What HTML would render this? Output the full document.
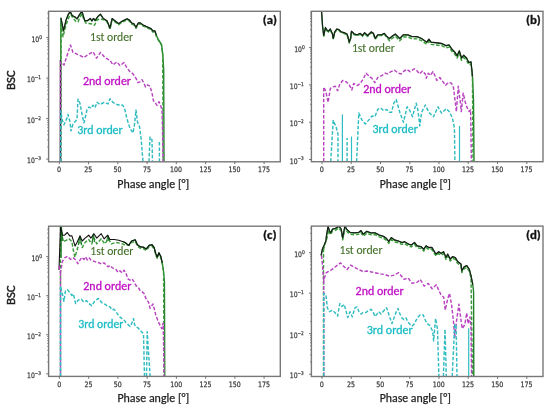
<!DOCTYPE html>
<html><head><meta charset="utf-8"><title>BSC vs phase angle</title>
<style>
html,body{margin:0;padding:0;background:#fff;}
body{width:550px;height:410px;overflow:hidden;}
svg{display:block;filter:blur(0.35px);}
</style></head>
<body>
<svg width="550" height="410" viewBox="0 0 550 410">
<rect width="550" height="410" fill="#fff"/>
<clipPath id="clipa"><rect x="48.6" y="11.3" width="231.7" height="150.5"/></clipPath>
<g clip-path="url(#clipa)">
<polyline points="60.5,161.8 60.9,18.2 63.5,31.0 66.1,20.3 68.1,15.0 70.2,11.7 72.2,15.8 74.7,17.0 77.1,19.0 79.6,14.6 82.0,11.7 83.3,16.2 84.9,21.1 87.8,20.7 90.2,18.7 91.9,21.1 93.5,18.7 95.2,20.7 97.6,17.0 100.4,14.4 103.4,18.8 107.0,21.0 110.0,28.3 112.1,18.8 115.0,21.0 118.7,23.9 121.6,21.7 126.0,19.5 127.2,19.1 129.4,20.2 131.6,23.2 133.8,23.9 136.0,27.5 138.2,23.2 140.4,23.2 143.3,25.4 147.7,27.3 151.3,29.0 152.8,31.2 155.0,31.2 156.4,35.6 158.6,40.0 161.5,44.4 162.7,53.9 163.7,70.0 164.0,161.8" fill="none" stroke="#23802a" stroke-width="1.40" stroke-linejoin="round"/>
<polyline points="61.0,161.8 61.0,22.0 63.0,36.7 66.0,25.0 69.0,17.0 71.0,14.6 73.0,18.2 76.0,21.5 78.0,22.0 80.0,17.0 82.0,14.0 84.0,20.0 86.0,23.2 89.0,23.5 92.0,24.0 94.5,25.2 97.0,20.0 100.0,19.0 103.4,19.6 107.0,21.8 110.0,29.1 112.1,19.6 115.0,21.8 118.7,24.7 121.6,22.5 126.0,20.3 127.2,19.9 129.4,21.0 131.6,24.0 133.8,24.7 136.0,28.3 138.2,24.0 140.4,24.0 143.3,26.2 147.7,28.1 151.3,29.8 152.8,32.0 155.0,32.0 156.4,36.4 158.6,40.8 161.5,45.2 162.7,54.7 163.2,161.8" fill="none" stroke="#3a9a3a" stroke-width="1.45" stroke-dasharray="3.6,1.8" stroke-linejoin="round"/>
<polyline points="60.9,17.9 63.5,30.7 66.1,20.0 68.1,14.7 70.2,11.4 72.2,15.5 74.7,16.7 77.1,18.7 79.6,14.3 82.0,11.4 83.3,15.9 84.9,20.8 87.8,20.4 90.2,18.4 91.9,20.8 93.5,18.4 95.2,20.4 97.6,16.7 100.4,14.1 103.4,18.5 107.0,20.7 110.0,28.0 112.1,18.5 115.0,20.7 118.7,23.6 121.6,21.4 126.0,19.2 127.2,18.8 129.4,19.9 131.6,22.9 133.8,23.6 136.0,27.2 138.2,22.9 140.4,22.9 143.3,25.1 147.7,27.0 151.3,28.7 152.8,30.9 155.0,30.9 156.4,35.3" fill="none" stroke="#1c1c1c" stroke-width="1.10" stroke-linejoin="round"/>
<polyline points="60.4,161.8 60.4,60.0" fill="none" stroke="#2a1a2a" stroke-width="1.30" stroke-linejoin="round"/>
<polyline points="60.5,161.8 60.5,62.0 64.0,65.0 70.5,45.1 73.0,52.4 78.0,54.6 84.0,57.5 88.0,54.6 93.0,51.7 96.5,58.2 100.5,52.4 105.0,57.5 110.0,60.4 113.0,64.8 117.0,61.9 120.0,65.6 124.0,62.6 127.0,68.0 130.0,71.7 133.0,73.9 136.0,78.3 138.0,82.7 140.0,81.9 142.0,79.7 144.0,83.4 145.5,87.0 147.5,84.9 150.0,86.3 152.0,92.9 153.5,100.9 155.0,102.4 157.0,105.3 159.0,101.7 160.5,105.3 162.0,109.7 162.5,126.6 163.0,161.8" fill="none" stroke="#b844c0" stroke-width="1.45" stroke-dasharray="3.6,1.8" stroke-linejoin="round"/>
<polyline points="60.5,161.8 60.9,110.7 62.0,119.3 64.0,124.8 67.0,118.0 68.0,114.4 70.0,121.7 71.0,130.9 73.0,124.1 75.0,121.7 77.0,119.3 78.0,99.1 80.0,103.4 82.0,114.4 84.0,122.9 86.0,114.4 87.0,109.5 89.0,107.0 91.0,108.3 93.0,105.2 95.0,107.7 97.0,102.2 100.0,104.6 104.0,102.4 108.0,103.9 110.0,98.7 113.0,102.4 116.0,104.0 118.0,105.0 121.0,104.6 123.0,105.5 125.0,110.0 127.0,119.0 130.0,128.4 133.0,133.0 134.5,124.7 136.0,110.1 137.5,122.0 139.5,126.6 141.0,137.5 143.0,161.8" fill="none" stroke="#30bcc0" stroke-width="1.45" stroke-dasharray="3.6,1.8" stroke-linejoin="round"/>
<polyline points="149.0,161.8 150.0,137.0 152.0,140.0 152.5,161.8" fill="none" stroke="#30bcc0" stroke-width="1.45" stroke-dasharray="3.6,1.8" stroke-linejoin="round"/>
<polyline points="159.4,161.8 159.4,142.0" fill="none" stroke="#30bcc0" stroke-width="1.45" stroke-dasharray="3.6,1.8" stroke-linejoin="round"/>
</g>
<rect x="48.6" y="11.3" width="231.7" height="150.5" fill="none" stroke="#787878" stroke-width="1.4"/>
<line x1="59.3" y1="161.8" x2="59.3" y2="164.2" stroke="#666" stroke-width="0.9"/>
<text x="59.1" y="172.4" font-family="'DejaVu Sans', 'Liberation Sans', sans-serif" font-size="7.4" fill="#3a3a3a" stroke="#3a3a3a" stroke-width="0.25" text-anchor="middle" textLength="4.1" lengthAdjust="spacingAndGlyphs">0</text>
<line x1="88.5" y1="161.8" x2="88.5" y2="164.2" stroke="#666" stroke-width="0.9"/>
<text x="88.3" y="172.4" font-family="'DejaVu Sans', 'Liberation Sans', sans-serif" font-size="7.4" fill="#3a3a3a" stroke="#3a3a3a" stroke-width="0.25" text-anchor="middle" textLength="8.0" lengthAdjust="spacingAndGlyphs">25</text>
<line x1="117.8" y1="161.8" x2="117.8" y2="164.2" stroke="#666" stroke-width="0.9"/>
<text x="117.6" y="172.4" font-family="'DejaVu Sans', 'Liberation Sans', sans-serif" font-size="7.4" fill="#3a3a3a" stroke="#3a3a3a" stroke-width="0.25" text-anchor="middle" textLength="8.0" lengthAdjust="spacingAndGlyphs">50</text>
<line x1="147.1" y1="161.8" x2="147.1" y2="164.2" stroke="#666" stroke-width="0.9"/>
<text x="146.9" y="172.4" font-family="'DejaVu Sans', 'Liberation Sans', sans-serif" font-size="7.4" fill="#3a3a3a" stroke="#3a3a3a" stroke-width="0.25" text-anchor="middle" textLength="8.0" lengthAdjust="spacingAndGlyphs">75</text>
<line x1="176.3" y1="161.8" x2="176.3" y2="164.2" stroke="#666" stroke-width="0.9"/>
<text x="176.1" y="172.4" font-family="'DejaVu Sans', 'Liberation Sans', sans-serif" font-size="7.4" fill="#3a3a3a" stroke="#3a3a3a" stroke-width="0.25" text-anchor="middle" textLength="12.0" lengthAdjust="spacingAndGlyphs">100</text>
<line x1="205.6" y1="161.8" x2="205.6" y2="164.2" stroke="#666" stroke-width="0.9"/>
<text x="205.4" y="172.4" font-family="'DejaVu Sans', 'Liberation Sans', sans-serif" font-size="7.4" fill="#3a3a3a" stroke="#3a3a3a" stroke-width="0.25" text-anchor="middle" textLength="12.0" lengthAdjust="spacingAndGlyphs">125</text>
<line x1="234.8" y1="161.8" x2="234.8" y2="164.2" stroke="#666" stroke-width="0.9"/>
<text x="234.6" y="172.4" font-family="'DejaVu Sans', 'Liberation Sans', sans-serif" font-size="7.4" fill="#3a3a3a" stroke="#3a3a3a" stroke-width="0.25" text-anchor="middle" textLength="12.0" lengthAdjust="spacingAndGlyphs">150</text>
<line x1="264.1" y1="161.8" x2="264.1" y2="164.2" stroke="#666" stroke-width="0.9"/>
<text x="263.9" y="172.4" font-family="'DejaVu Sans', 'Liberation Sans', sans-serif" font-size="7.4" fill="#3a3a3a" stroke="#3a3a3a" stroke-width="0.25" text-anchor="middle" textLength="12.0" lengthAdjust="spacingAndGlyphs">175</text>
<line x1="46.2" y1="37.6" x2="48.6" y2="37.6" stroke="#666" stroke-width="0.9"/>
<text y="41.6" font-family="'DejaVu Sans', 'Liberation Sans', sans-serif" fill="#3a3a3a" stroke="#3a3a3a" stroke-width="0.25"><tspan x="31.4" font-size="7.5" textLength="7.8" lengthAdjust="spacingAndGlyphs">10</tspan><tspan font-size="5.2" dy="-3.1" textLength="2.8" lengthAdjust="spacingAndGlyphs">0</tspan></text>
<line x1="47.2" y1="25.4" x2="48.6" y2="25.4" stroke="#666" stroke-width="0.7"/>
<line x1="47.2" y1="18.3" x2="48.6" y2="18.3" stroke="#666" stroke-width="0.7"/>
<line x1="47.2" y1="13.2" x2="48.6" y2="13.2" stroke="#666" stroke-width="0.7"/>
<line x1="46.2" y1="78.1" x2="48.6" y2="78.1" stroke="#666" stroke-width="0.9"/>
<text y="82.1" font-family="'DejaVu Sans', 'Liberation Sans', sans-serif" fill="#3a3a3a" stroke="#3a3a3a" stroke-width="0.25"><tspan x="27.0" font-size="7.5" textLength="7.8" lengthAdjust="spacingAndGlyphs">10</tspan><tspan font-size="5.2" dy="-3.1" textLength="6.2" lengthAdjust="spacingAndGlyphs">&#8722;1</tspan></text>
<line x1="47.2" y1="65.9" x2="48.6" y2="65.9" stroke="#666" stroke-width="0.7"/>
<line x1="47.2" y1="58.8" x2="48.6" y2="58.8" stroke="#666" stroke-width="0.7"/>
<line x1="47.2" y1="53.7" x2="48.6" y2="53.7" stroke="#666" stroke-width="0.7"/>
<line x1="47.2" y1="49.8" x2="48.6" y2="49.8" stroke="#666" stroke-width="0.7"/>
<line x1="47.2" y1="46.6" x2="48.6" y2="46.6" stroke="#666" stroke-width="0.7"/>
<line x1="47.2" y1="43.9" x2="48.6" y2="43.9" stroke="#666" stroke-width="0.7"/>
<line x1="47.2" y1="41.5" x2="48.6" y2="41.5" stroke="#666" stroke-width="0.7"/>
<line x1="47.2" y1="39.5" x2="48.6" y2="39.5" stroke="#666" stroke-width="0.7"/>
<line x1="46.2" y1="118.6" x2="48.6" y2="118.6" stroke="#666" stroke-width="0.9"/>
<text y="122.6" font-family="'DejaVu Sans', 'Liberation Sans', sans-serif" fill="#3a3a3a" stroke="#3a3a3a" stroke-width="0.25"><tspan x="27.0" font-size="7.5" textLength="7.8" lengthAdjust="spacingAndGlyphs">10</tspan><tspan font-size="5.2" dy="-3.1" textLength="6.2" lengthAdjust="spacingAndGlyphs">&#8722;2</tspan></text>
<line x1="47.2" y1="106.4" x2="48.6" y2="106.4" stroke="#666" stroke-width="0.7"/>
<line x1="47.2" y1="99.3" x2="48.6" y2="99.3" stroke="#666" stroke-width="0.7"/>
<line x1="47.2" y1="94.2" x2="48.6" y2="94.2" stroke="#666" stroke-width="0.7"/>
<line x1="47.2" y1="90.3" x2="48.6" y2="90.3" stroke="#666" stroke-width="0.7"/>
<line x1="47.2" y1="87.1" x2="48.6" y2="87.1" stroke="#666" stroke-width="0.7"/>
<line x1="47.2" y1="84.4" x2="48.6" y2="84.4" stroke="#666" stroke-width="0.7"/>
<line x1="47.2" y1="82.0" x2="48.6" y2="82.0" stroke="#666" stroke-width="0.7"/>
<line x1="47.2" y1="80.0" x2="48.6" y2="80.0" stroke="#666" stroke-width="0.7"/>
<line x1="46.2" y1="159.1" x2="48.6" y2="159.1" stroke="#666" stroke-width="0.9"/>
<text y="163.1" font-family="'DejaVu Sans', 'Liberation Sans', sans-serif" fill="#3a3a3a" stroke="#3a3a3a" stroke-width="0.25"><tspan x="27.0" font-size="7.5" textLength="7.8" lengthAdjust="spacingAndGlyphs">10</tspan><tspan font-size="5.2" dy="-3.1" textLength="6.2" lengthAdjust="spacingAndGlyphs">&#8722;3</tspan></text>
<line x1="47.2" y1="146.9" x2="48.6" y2="146.9" stroke="#666" stroke-width="0.7"/>
<line x1="47.2" y1="139.8" x2="48.6" y2="139.8" stroke="#666" stroke-width="0.7"/>
<line x1="47.2" y1="134.7" x2="48.6" y2="134.7" stroke="#666" stroke-width="0.7"/>
<line x1="47.2" y1="130.8" x2="48.6" y2="130.8" stroke="#666" stroke-width="0.7"/>
<line x1="47.2" y1="127.6" x2="48.6" y2="127.6" stroke="#666" stroke-width="0.7"/>
<line x1="47.2" y1="124.9" x2="48.6" y2="124.9" stroke="#666" stroke-width="0.7"/>
<line x1="47.2" y1="122.5" x2="48.6" y2="122.5" stroke="#666" stroke-width="0.7"/>
<line x1="47.2" y1="120.5" x2="48.6" y2="120.5" stroke="#666" stroke-width="0.7"/>
<text x="90.1" y="40.5" font-family="Carlito, 'Liberation Sans', sans-serif" font-size="11.50" font-weight="normal" fill="#44702a" stroke="#44702a" stroke-width="0.12" textLength="43.0" lengthAdjust="spacingAndGlyphs">1st order</text>
<text x="83.0" y="84.5" font-family="Carlito, 'Liberation Sans', sans-serif" font-size="11.50" font-weight="normal" fill="#c010c4" stroke="#c010c4" stroke-width="0.30" textLength="48.0" lengthAdjust="spacingAndGlyphs">2nd order</text>
<text x="77.2" y="133.5" font-family="Carlito, 'Liberation Sans', sans-serif" font-size="11.50" font-weight="normal" fill="#1cbcc4" stroke="#1cbcc4" stroke-width="0.30" textLength="45.5" lengthAdjust="spacingAndGlyphs">3rd order</text>
<text x="262.7" y="23.6" font-family="Carlito, 'Liberation Sans', sans-serif" font-size="12.00" font-weight="bold" fill="#111" stroke="#111" stroke-width="0.30" textLength="14.2" lengthAdjust="spacingAndGlyphs">(a)</text>
<clipPath id="clipb"><rect x="311.4" y="11.3" width="231.6" height="150.4"/></clipPath>
<g clip-path="url(#clipb)">
<polyline points="321.1,5.0 322.5,25.5 323.7,35.8 325.5,27.7 326.6,29.9 328.4,31.4 330.3,29.2 332.5,34.3 333.2,38.7 334.7,32.1 336.9,29.2 339.0,29.9 341.2,32.1 344.2,32.9 347.1,34.3 349.3,42.4 350.7,38.0 351.5,31.4 354.4,34.3 357.3,35.0 360.2,33.6 362.4,35.8 364.6,32.9 367.6,35.8 371.2,32.1 373.4,33.6 375.2,38.7 377.8,35.0 381.4,35.0 384.4,33.6 386.6,36.5 389.5,38.7 392.0,36.5 395.3,34.3 397.5,36.5 399.7,38.7 403.4,35.0 407.7,35.0 411.4,36.5 417.2,36.9 421.6,38.7 426.7,42.4 428.9,39.4 431.1,42.4 435.9,42.9 441.7,43.7 446.1,45.9 449.0,45.1 452.0,49.5 454.9,52.4 457.1,56.1 459.3,51.0 461.5,58.3 463.7,55.4 466.6,58.3 468.8,62.7 471.0,62.0 472.5,76.6 473.5,100.0 474.0,161.7" fill="none" stroke="#23802a" stroke-width="1.40" stroke-linejoin="round"/>
<polyline points="323.7,36.4 325.5,28.3 326.6,30.5 328.4,32.0 330.3,29.8 332.5,34.9 333.2,39.3 334.7,32.7 336.9,29.8 339.0,30.5 341.2,32.7 344.2,33.5 347.1,34.9 349.3,43.0 350.7,38.6 351.5,32.0 354.4,34.9 357.3,35.6 360.2,34.2 362.4,36.4 364.6,33.5 367.6,36.4 371.2,32.7 373.4,34.2 375.2,39.3 377.8,35.6 381.4,35.6 384.4,34.2 386.6,37.1 389.5,40.7 392.0,38.5 395.3,36.3 397.5,38.5 399.7,40.7 403.4,37.0 407.7,37.0 411.4,38.5 417.2,38.9 421.6,40.7 426.7,44.4 428.9,41.4 431.1,44.4 435.9,44.9 441.7,45.7 446.1,47.9 449.0,47.1 452.0,51.5 454.9,54.4 457.1,58.1 459.3,53.0 461.5,60.3 463.7,57.4 466.6,60.3 468.8,64.7 471.0,64.0 472.5,78.6 473.0,161.7" fill="none" stroke="#3a9a3a" stroke-width="1.45" stroke-dasharray="3.6,1.8" stroke-linejoin="round"/>
<polyline points="321.1,4.7 322.5,25.2 323.7,35.5 325.5,27.4 326.6,29.6 328.4,31.1 330.3,28.9 332.5,34.0 333.2,38.4 334.7,31.8 336.9,28.9 339.0,29.6 341.2,31.8 344.2,32.6 347.1,34.0 349.3,42.1 350.7,37.7 351.5,31.1 354.4,34.0 357.3,34.7 360.2,33.3 362.4,35.5 364.6,32.6 367.6,35.5 371.2,31.8 373.4,33.3 375.2,38.4 377.8,34.7 381.4,34.7 384.4,33.3 386.6,36.2 389.5,38.4 392.0,36.2 395.3,34.0 397.5,36.2 399.7,38.4 403.4,34.7 407.7,34.7 411.4,36.2 417.2,36.6 421.6,38.4 426.7,42.1 428.9,39.1 431.1,42.1 435.9,42.6 441.7,43.4 446.1,45.6 449.0,44.8 452.0,49.2 454.9,52.1 457.1,55.8 459.3,50.7 461.5,58.0 463.7,55.1 466.6,58.0 468.8,62.4 471.0,61.7 472.5,76.3" fill="none" stroke="#1c1c1c" stroke-width="1.10" stroke-linejoin="round"/>
<polyline points="323.7,161.7 323.7,87.0 325.9,91.4 328.1,102.4 330.3,88.5 332.5,87.0 335.4,86.3 337.6,90.7 339.8,84.1 342.7,80.5 346.4,81.9 349.3,84.9 351.8,90.0 353.7,83.4 357.3,85.6 360.2,83.4 363.2,79.0 366.1,73.2 369.0,76.1 371.9,78.3 374.9,82.7 377.8,77.5 382.2,75.4 385.1,73.2 388.0,73.9 390.9,71.7 394.6,70.2 398.2,73.2 401.2,73.9 404.1,71.0 407.0,69.5 409.9,71.7 414.3,68.8 417.2,71.0 419.4,73.9 422.4,71.0 425.3,73.9 426.3,78.3 428.2,73.2 430.4,75.4 432.9,71.6 434.9,75.5 436.8,80.4 439.8,77.5 442.7,81.4 445.6,85.3 448.6,82.3 451.5,83.3 453.4,87.2 455.0,99.9 456.4,111.6 458.3,86.3 460.3,101.9 461.3,111.6 463.2,93.1 465.2,101.9 467.1,107.7 469.1,111.6 470.6,109.7 471.4,161.7" fill="none" stroke="#b844c0" stroke-width="1.45" stroke-dasharray="3.6,1.8" stroke-linejoin="round"/>
<polyline points="356.6,161.7 358.8,113.0 361.7,119.6 365.4,124.0 369.7,118.9 372.0,116.0 374.9,116.7 377.8,109.4 380.7,107.9 383.6,110.8 386.6,109.4 389.5,112.3 391.6,112.3 393.8,103.1 396.2,99.5 399.8,112.3 403.5,122.3 407.1,106.8 409.8,110.5 412.5,116.8 416.2,103.2 418.0,110.5 419.8,125.9 421.6,112.3 425.3,105.0 428.9,112.3 433.5,116.8 438.0,106.8 441.6,113.2 446.2,108.6 449.8,112.3 452.5,118.6 454.4,127.7 454.9,161.7" fill="none" stroke="#30bcc0" stroke-width="1.45" stroke-dasharray="3.6,1.8" stroke-linejoin="round"/>
<polyline points="330.7,161.7 333.2,120.4 336.1,126.9 338.0,134.2 338.0,161.7" fill="none" stroke="#30bcc0" stroke-width="1.45" stroke-dasharray="3.6,1.8" stroke-linejoin="round"/>
<polyline points="347.1,161.7 347.1,137.9" fill="none" stroke="#30bcc0" stroke-width="1.45" stroke-dasharray="3.6,1.8" stroke-linejoin="round"/>
<polyline points="342.4,161.7 342.4,114.5" fill="none" stroke="#30bcc0" stroke-width="1.20" stroke-linejoin="round"/>
<polyline points="351.5,161.7 351.5,136.4" fill="none" stroke="#30bcc0" stroke-width="1.20" stroke-linejoin="round"/>
<polyline points="459.5,161.7 459.5,125.9" fill="none" stroke="#30bcc0" stroke-width="1.20" stroke-linejoin="round"/>
</g>
<rect x="311.4" y="11.3" width="231.6" height="150.4" fill="none" stroke="#787878" stroke-width="1.4"/>
<line x1="322.0" y1="161.7" x2="322.0" y2="164.1" stroke="#666" stroke-width="0.9"/>
<text x="321.8" y="172.3" font-family="'DejaVu Sans', 'Liberation Sans', sans-serif" font-size="7.4" fill="#3a3a3a" stroke="#3a3a3a" stroke-width="0.25" text-anchor="middle" textLength="4.1" lengthAdjust="spacingAndGlyphs">0</text>
<line x1="351.2" y1="161.7" x2="351.2" y2="164.1" stroke="#666" stroke-width="0.9"/>
<text x="351.1" y="172.3" font-family="'DejaVu Sans', 'Liberation Sans', sans-serif" font-size="7.4" fill="#3a3a3a" stroke="#3a3a3a" stroke-width="0.25" text-anchor="middle" textLength="8.0" lengthAdjust="spacingAndGlyphs">25</text>
<line x1="380.5" y1="161.7" x2="380.5" y2="164.1" stroke="#666" stroke-width="0.9"/>
<text x="380.3" y="172.3" font-family="'DejaVu Sans', 'Liberation Sans', sans-serif" font-size="7.4" fill="#3a3a3a" stroke="#3a3a3a" stroke-width="0.25" text-anchor="middle" textLength="8.0" lengthAdjust="spacingAndGlyphs">50</text>
<line x1="409.8" y1="161.7" x2="409.8" y2="164.1" stroke="#666" stroke-width="0.9"/>
<text x="409.6" y="172.3" font-family="'DejaVu Sans', 'Liberation Sans', sans-serif" font-size="7.4" fill="#3a3a3a" stroke="#3a3a3a" stroke-width="0.25" text-anchor="middle" textLength="8.0" lengthAdjust="spacingAndGlyphs">75</text>
<line x1="439.0" y1="161.7" x2="439.0" y2="164.1" stroke="#666" stroke-width="0.9"/>
<text x="438.8" y="172.3" font-family="'DejaVu Sans', 'Liberation Sans', sans-serif" font-size="7.4" fill="#3a3a3a" stroke="#3a3a3a" stroke-width="0.25" text-anchor="middle" textLength="12.0" lengthAdjust="spacingAndGlyphs">100</text>
<line x1="468.2" y1="161.7" x2="468.2" y2="164.1" stroke="#666" stroke-width="0.9"/>
<text x="468.1" y="172.3" font-family="'DejaVu Sans', 'Liberation Sans', sans-serif" font-size="7.4" fill="#3a3a3a" stroke="#3a3a3a" stroke-width="0.25" text-anchor="middle" textLength="12.0" lengthAdjust="spacingAndGlyphs">125</text>
<line x1="497.5" y1="161.7" x2="497.5" y2="164.1" stroke="#666" stroke-width="0.9"/>
<text x="497.3" y="172.3" font-family="'DejaVu Sans', 'Liberation Sans', sans-serif" font-size="7.4" fill="#3a3a3a" stroke="#3a3a3a" stroke-width="0.25" text-anchor="middle" textLength="12.0" lengthAdjust="spacingAndGlyphs">150</text>
<line x1="526.8" y1="161.7" x2="526.8" y2="164.1" stroke="#666" stroke-width="0.9"/>
<text x="526.5" y="172.3" font-family="'DejaVu Sans', 'Liberation Sans', sans-serif" font-size="7.4" fill="#3a3a3a" stroke="#3a3a3a" stroke-width="0.25" text-anchor="middle" textLength="12.0" lengthAdjust="spacingAndGlyphs">175</text>
<line x1="309.0" y1="47.6" x2="311.4" y2="47.6" stroke="#666" stroke-width="0.9"/>
<text y="51.6" font-family="'DejaVu Sans', 'Liberation Sans', sans-serif" fill="#3a3a3a" stroke="#3a3a3a" stroke-width="0.25"><tspan x="294.2" font-size="7.5" textLength="7.8" lengthAdjust="spacingAndGlyphs">10</tspan><tspan font-size="5.2" dy="-3.1" textLength="2.8" lengthAdjust="spacingAndGlyphs">0</tspan></text>
<line x1="310.0" y1="36.4" x2="311.4" y2="36.4" stroke="#666" stroke-width="0.7"/>
<line x1="310.0" y1="29.8" x2="311.4" y2="29.8" stroke="#666" stroke-width="0.7"/>
<line x1="310.0" y1="25.1" x2="311.4" y2="25.1" stroke="#666" stroke-width="0.7"/>
<line x1="310.0" y1="21.5" x2="311.4" y2="21.5" stroke="#666" stroke-width="0.7"/>
<line x1="310.0" y1="18.6" x2="311.4" y2="18.6" stroke="#666" stroke-width="0.7"/>
<line x1="310.0" y1="16.1" x2="311.4" y2="16.1" stroke="#666" stroke-width="0.7"/>
<line x1="310.0" y1="13.9" x2="311.4" y2="13.9" stroke="#666" stroke-width="0.7"/>
<line x1="310.0" y1="12.0" x2="311.4" y2="12.0" stroke="#666" stroke-width="0.7"/>
<line x1="309.0" y1="84.9" x2="311.4" y2="84.9" stroke="#666" stroke-width="0.9"/>
<text y="88.9" font-family="'DejaVu Sans', 'Liberation Sans', sans-serif" fill="#3a3a3a" stroke="#3a3a3a" stroke-width="0.25"><tspan x="289.8" font-size="7.5" textLength="7.8" lengthAdjust="spacingAndGlyphs">10</tspan><tspan font-size="5.2" dy="-3.1" textLength="6.2" lengthAdjust="spacingAndGlyphs">&#8722;1</tspan></text>
<line x1="310.0" y1="73.7" x2="311.4" y2="73.7" stroke="#666" stroke-width="0.7"/>
<line x1="310.0" y1="67.1" x2="311.4" y2="67.1" stroke="#666" stroke-width="0.7"/>
<line x1="310.0" y1="62.4" x2="311.4" y2="62.4" stroke="#666" stroke-width="0.7"/>
<line x1="310.0" y1="58.8" x2="311.4" y2="58.8" stroke="#666" stroke-width="0.7"/>
<line x1="310.0" y1="55.9" x2="311.4" y2="55.9" stroke="#666" stroke-width="0.7"/>
<line x1="310.0" y1="53.4" x2="311.4" y2="53.4" stroke="#666" stroke-width="0.7"/>
<line x1="310.0" y1="51.2" x2="311.4" y2="51.2" stroke="#666" stroke-width="0.7"/>
<line x1="310.0" y1="49.3" x2="311.4" y2="49.3" stroke="#666" stroke-width="0.7"/>
<line x1="309.0" y1="122.2" x2="311.4" y2="122.2" stroke="#666" stroke-width="0.9"/>
<text y="126.2" font-family="'DejaVu Sans', 'Liberation Sans', sans-serif" fill="#3a3a3a" stroke="#3a3a3a" stroke-width="0.25"><tspan x="289.8" font-size="7.5" textLength="7.8" lengthAdjust="spacingAndGlyphs">10</tspan><tspan font-size="5.2" dy="-3.1" textLength="6.2" lengthAdjust="spacingAndGlyphs">&#8722;2</tspan></text>
<line x1="310.0" y1="111.0" x2="311.4" y2="111.0" stroke="#666" stroke-width="0.7"/>
<line x1="310.0" y1="104.4" x2="311.4" y2="104.4" stroke="#666" stroke-width="0.7"/>
<line x1="310.0" y1="99.7" x2="311.4" y2="99.7" stroke="#666" stroke-width="0.7"/>
<line x1="310.0" y1="96.1" x2="311.4" y2="96.1" stroke="#666" stroke-width="0.7"/>
<line x1="310.0" y1="93.2" x2="311.4" y2="93.2" stroke="#666" stroke-width="0.7"/>
<line x1="310.0" y1="90.7" x2="311.4" y2="90.7" stroke="#666" stroke-width="0.7"/>
<line x1="310.0" y1="88.5" x2="311.4" y2="88.5" stroke="#666" stroke-width="0.7"/>
<line x1="310.0" y1="86.6" x2="311.4" y2="86.6" stroke="#666" stroke-width="0.7"/>
<line x1="309.0" y1="159.5" x2="311.4" y2="159.5" stroke="#666" stroke-width="0.9"/>
<text y="163.5" font-family="'DejaVu Sans', 'Liberation Sans', sans-serif" fill="#3a3a3a" stroke="#3a3a3a" stroke-width="0.25"><tspan x="289.8" font-size="7.5" textLength="7.8" lengthAdjust="spacingAndGlyphs">10</tspan><tspan font-size="5.2" dy="-3.1" textLength="6.2" lengthAdjust="spacingAndGlyphs">&#8722;3</tspan></text>
<line x1="310.0" y1="148.3" x2="311.4" y2="148.3" stroke="#666" stroke-width="0.7"/>
<line x1="310.0" y1="141.7" x2="311.4" y2="141.7" stroke="#666" stroke-width="0.7"/>
<line x1="310.0" y1="137.0" x2="311.4" y2="137.0" stroke="#666" stroke-width="0.7"/>
<line x1="310.0" y1="133.4" x2="311.4" y2="133.4" stroke="#666" stroke-width="0.7"/>
<line x1="310.0" y1="130.5" x2="311.4" y2="130.5" stroke="#666" stroke-width="0.7"/>
<line x1="310.0" y1="128.0" x2="311.4" y2="128.0" stroke="#666" stroke-width="0.7"/>
<line x1="310.0" y1="125.8" x2="311.4" y2="125.8" stroke="#666" stroke-width="0.7"/>
<line x1="310.0" y1="123.9" x2="311.4" y2="123.9" stroke="#666" stroke-width="0.7"/>
<text x="351.9" y="51.9" font-family="Carlito, 'Liberation Sans', sans-serif" font-size="11.50" font-weight="normal" fill="#44702a" stroke="#44702a" stroke-width="0.12" textLength="43.0" lengthAdjust="spacingAndGlyphs">1st order</text>
<text x="363.2" y="93.1" font-family="Carlito, 'Liberation Sans', sans-serif" font-size="11.50" font-weight="normal" fill="#c010c4" stroke="#c010c4" stroke-width="0.30" textLength="48.0" lengthAdjust="spacingAndGlyphs">2nd order</text>
<text x="372.4" y="132.8" font-family="Carlito, 'Liberation Sans', sans-serif" font-size="11.50" font-weight="normal" fill="#1cbcc4" stroke="#1cbcc4" stroke-width="0.30" textLength="45.5" lengthAdjust="spacingAndGlyphs">3rd order</text>
<text x="525.9" y="23.6" font-family="Carlito, 'Liberation Sans', sans-serif" font-size="12.00" font-weight="bold" fill="#111" stroke="#111" stroke-width="0.30" textLength="14.9" lengthAdjust="spacingAndGlyphs">(b)</text>
<clipPath id="clipc"><rect x="48.6" y="226.2" width="231.7" height="150.2"/></clipPath>
<g clip-path="url(#clipc)">
<polyline points="123.1,241.7 125.0,242.5 128.7,245.4 131.6,241.0 135.2,239.8 137.4,244.7 140.4,246.9 143.3,247.1 146.2,249.0 149.1,245.4 152.0,244.7 154.2,247.6 155.7,253.4 157.2,257.1 158.9,252.7 160.8,256.4 162.3,262.9 163.6,271.7 164.5,282.0 164.8,376.4" fill="none" stroke="#23802a" stroke-width="1.30" stroke-linejoin="round"/>
<polyline points="60.5,376.4 60.5,226.0 63.2,241.7 66.1,240.3 69.0,238.8 71.9,241.7 73.4,250.5 74.9,257.1 77.0,250.5 80.0,238.1 82.2,247.6 85.1,242.5 88.7,239.5 91.7,243.9 93.9,238.1 96.8,243.9 101.2,238.8 104.8,243.9 108.5,238.8 111.4,243.9 115.8,242.5 120.2,243.2 124.6,244.7 129.0,245.4 131.6,242.5 135.2,241.3 137.4,246.2 140.4,248.4 143.3,248.6 146.2,250.5 149.1,246.9 152.0,246.2 154.2,249.1 155.7,254.9 157.2,258.6 158.9,254.2 160.8,257.9 162.3,264.4 163.6,273.2 164.0,376.4" fill="none" stroke="#3a9a3a" stroke-width="1.45" stroke-dasharray="3.6,1.8" stroke-linejoin="round"/>
<polyline points="61.0,258.0 61.2,226.4 62.6,241.0" fill="none" stroke="#23802a" stroke-width="1.50" stroke-linejoin="round"/>
<polyline points="78.6,244.0 80.0,236.0 81.4,244.0" fill="none" stroke="#23802a" stroke-width="1.20" stroke-linejoin="round"/>
<polyline points="92.2,242.0 93.4,234.0 94.6,242.0" fill="none" stroke="#23802a" stroke-width="1.20" stroke-linejoin="round"/>
<polyline points="106.8,241.0 107.9,235.5 109.0,241.0" fill="none" stroke="#23802a" stroke-width="1.20" stroke-linejoin="round"/>
<polyline points="59.0,270.0 60.5,226.4 62.4,235.2 64.6,235.2 67.3,232.5 69.7,235.9 71.9,235.9 75.1,246.1 77.0,242.5 80.0,235.9 82.2,241.0 85.1,238.1 88.7,235.2 90.9,238.1 93.9,233.7 96.8,238.1 101.2,233.7 104.1,238.8 107.7,235.2 109.9,239.5 114.3,239.5 118.7,240.3 123.1,241.7 125.0,242.5 128.7,245.4 131.6,241.0 135.2,239.8 137.4,244.7 140.4,246.9 143.3,247.1 146.2,249.0 149.1,245.4 152.0,244.7 154.2,247.6 155.7,253.4 157.2,257.1 158.9,252.7 160.8,256.4 162.3,262.9" fill="none" stroke="#111" stroke-width="1.10" stroke-linejoin="round"/>
<polyline points="60.5,272.4 60.5,376.4" fill="none" stroke="#b844c0" stroke-width="1.45" stroke-dasharray="3.6,1.8" stroke-linejoin="round"/>
<polyline points="58.8,265.9 60.5,272.4 62.4,261.5 64.6,257.8 67.5,256.4 70.5,259.3 73.4,257.8 76.3,260.7 77.8,263.7 80.0,260.1 82.0,257.4 84.0,259.4 85.5,256.8 87.5,260.1 89.5,258.1 91.0,260.1 93.0,260.8 96.0,262.1 99.0,262.8 101.5,264.1 104.0,262.8 106.0,264.8 108.0,266.8 110.0,265.5 112.0,267.5 114.0,268.8 116.0,269.5 118.0,272.2 120.0,270.8 122.0,272.8 124.0,270.2 126.0,273.5 128.0,278.9 130.0,280.2 132.0,278.9 134.0,281.6 136.0,285.6 138.0,286.9 140.0,290.3 142.0,291.6 144.0,293.5 145.7,298.0 148.6,302.4 150.1,308.2 153.0,303.9 155.9,315.6 158.9,322.9 161.8,328.7 163.2,322.9 164.1,376.4" fill="none" stroke="#b844c0" stroke-width="1.45" stroke-dasharray="3.6,1.8" stroke-linejoin="round"/>
<polyline points="60.5,376.4 60.5,286.0 62.4,294.0 63.9,301.3 65.4,291.1 67.5,289.6 69.7,292.5 71.9,295.5 73.4,294.0 75.6,303.5 78.5,299.9 81.4,299.1 83.6,302.0 86.5,300.6 88.7,303.5 91.7,305.7 94.6,301.3 98.2,298.4 101.9,302.8 104.8,304.2 108.0,306.5 110.0,306.8 112.0,309.8 114.0,309.3 116.0,311.7 118.0,314.6 120.0,317.1 122.0,318.6 124.0,320.0 126.0,322.5 128.0,324.4 130.0,326.4 131.5,323.9 133.5,318.6 134.5,324.4 136.0,326.9 138.0,327.8 140.0,330.3 142.0,332.2 143.5,333.7 144.5,376.4" fill="none" stroke="#30bcc0" stroke-width="1.45" stroke-dasharray="3.6,1.8" stroke-linejoin="round"/>
<polyline points="146.5,376.4 147.2,331.6 150.1,376.4" fill="none" stroke="#30bcc0" stroke-width="1.45" stroke-dasharray="3.6,1.8" stroke-linejoin="round"/>
</g>
<rect x="48.6" y="226.2" width="231.7" height="150.2" fill="none" stroke="#787878" stroke-width="1.4"/>
<line x1="59.4" y1="376.4" x2="59.4" y2="378.8" stroke="#666" stroke-width="0.9"/>
<text x="59.2" y="387.0" font-family="'DejaVu Sans', 'Liberation Sans', sans-serif" font-size="7.4" fill="#3a3a3a" stroke="#3a3a3a" stroke-width="0.25" text-anchor="middle" textLength="4.1" lengthAdjust="spacingAndGlyphs">0</text>
<line x1="88.7" y1="376.4" x2="88.7" y2="378.8" stroke="#666" stroke-width="0.9"/>
<text x="88.5" y="387.0" font-family="'DejaVu Sans', 'Liberation Sans', sans-serif" font-size="7.4" fill="#3a3a3a" stroke="#3a3a3a" stroke-width="0.25" text-anchor="middle" textLength="8.0" lengthAdjust="spacingAndGlyphs">25</text>
<line x1="117.9" y1="376.4" x2="117.9" y2="378.8" stroke="#666" stroke-width="0.9"/>
<text x="117.7" y="387.0" font-family="'DejaVu Sans', 'Liberation Sans', sans-serif" font-size="7.4" fill="#3a3a3a" stroke="#3a3a3a" stroke-width="0.25" text-anchor="middle" textLength="8.0" lengthAdjust="spacingAndGlyphs">50</text>
<line x1="147.2" y1="376.4" x2="147.2" y2="378.8" stroke="#666" stroke-width="0.9"/>
<text x="147.0" y="387.0" font-family="'DejaVu Sans', 'Liberation Sans', sans-serif" font-size="7.4" fill="#3a3a3a" stroke="#3a3a3a" stroke-width="0.25" text-anchor="middle" textLength="8.0" lengthAdjust="spacingAndGlyphs">75</text>
<line x1="176.4" y1="376.4" x2="176.4" y2="378.8" stroke="#666" stroke-width="0.9"/>
<text x="176.2" y="387.0" font-family="'DejaVu Sans', 'Liberation Sans', sans-serif" font-size="7.4" fill="#3a3a3a" stroke="#3a3a3a" stroke-width="0.25" text-anchor="middle" textLength="12.0" lengthAdjust="spacingAndGlyphs">100</text>
<line x1="205.7" y1="376.4" x2="205.7" y2="378.8" stroke="#666" stroke-width="0.9"/>
<text x="205.5" y="387.0" font-family="'DejaVu Sans', 'Liberation Sans', sans-serif" font-size="7.4" fill="#3a3a3a" stroke="#3a3a3a" stroke-width="0.25" text-anchor="middle" textLength="12.0" lengthAdjust="spacingAndGlyphs">125</text>
<line x1="234.9" y1="376.4" x2="234.9" y2="378.8" stroke="#666" stroke-width="0.9"/>
<text x="234.7" y="387.0" font-family="'DejaVu Sans', 'Liberation Sans', sans-serif" font-size="7.4" fill="#3a3a3a" stroke="#3a3a3a" stroke-width="0.25" text-anchor="middle" textLength="12.0" lengthAdjust="spacingAndGlyphs">150</text>
<line x1="264.1" y1="376.4" x2="264.1" y2="378.8" stroke="#666" stroke-width="0.9"/>
<text x="263.9" y="387.0" font-family="'DejaVu Sans', 'Liberation Sans', sans-serif" font-size="7.4" fill="#3a3a3a" stroke="#3a3a3a" stroke-width="0.25" text-anchor="middle" textLength="12.0" lengthAdjust="spacingAndGlyphs">175</text>
<line x1="46.2" y1="256.6" x2="48.6" y2="256.6" stroke="#666" stroke-width="0.9"/>
<text y="260.6" font-family="'DejaVu Sans', 'Liberation Sans', sans-serif" fill="#3a3a3a" stroke="#3a3a3a" stroke-width="0.25"><tspan x="31.4" font-size="7.5" textLength="7.8" lengthAdjust="spacingAndGlyphs">10</tspan><tspan font-size="5.2" dy="-3.1" textLength="2.8" lengthAdjust="spacingAndGlyphs">0</tspan></text>
<line x1="47.2" y1="244.8" x2="48.6" y2="244.8" stroke="#666" stroke-width="0.7"/>
<line x1="47.2" y1="238.0" x2="48.6" y2="238.0" stroke="#666" stroke-width="0.7"/>
<line x1="47.2" y1="233.1" x2="48.6" y2="233.1" stroke="#666" stroke-width="0.7"/>
<line x1="47.2" y1="229.3" x2="48.6" y2="229.3" stroke="#666" stroke-width="0.7"/>
<line x1="46.2" y1="295.7" x2="48.6" y2="295.7" stroke="#666" stroke-width="0.9"/>
<text y="299.7" font-family="'DejaVu Sans', 'Liberation Sans', sans-serif" fill="#3a3a3a" stroke="#3a3a3a" stroke-width="0.25"><tspan x="27.0" font-size="7.5" textLength="7.8" lengthAdjust="spacingAndGlyphs">10</tspan><tspan font-size="5.2" dy="-3.1" textLength="6.2" lengthAdjust="spacingAndGlyphs">&#8722;1</tspan></text>
<line x1="47.2" y1="283.9" x2="48.6" y2="283.9" stroke="#666" stroke-width="0.7"/>
<line x1="47.2" y1="277.0" x2="48.6" y2="277.0" stroke="#666" stroke-width="0.7"/>
<line x1="47.2" y1="272.1" x2="48.6" y2="272.1" stroke="#666" stroke-width="0.7"/>
<line x1="47.2" y1="268.4" x2="48.6" y2="268.4" stroke="#666" stroke-width="0.7"/>
<line x1="47.2" y1="265.3" x2="48.6" y2="265.3" stroke="#666" stroke-width="0.7"/>
<line x1="47.2" y1="262.6" x2="48.6" y2="262.6" stroke="#666" stroke-width="0.7"/>
<line x1="47.2" y1="260.4" x2="48.6" y2="260.4" stroke="#666" stroke-width="0.7"/>
<line x1="47.2" y1="258.4" x2="48.6" y2="258.4" stroke="#666" stroke-width="0.7"/>
<line x1="46.2" y1="334.7" x2="48.6" y2="334.7" stroke="#666" stroke-width="0.9"/>
<text y="338.7" font-family="'DejaVu Sans', 'Liberation Sans', sans-serif" fill="#3a3a3a" stroke="#3a3a3a" stroke-width="0.25"><tspan x="27.0" font-size="7.5" textLength="7.8" lengthAdjust="spacingAndGlyphs">10</tspan><tspan font-size="5.2" dy="-3.1" textLength="6.2" lengthAdjust="spacingAndGlyphs">&#8722;2</tspan></text>
<line x1="47.2" y1="322.9" x2="48.6" y2="322.9" stroke="#666" stroke-width="0.7"/>
<line x1="47.2" y1="316.1" x2="48.6" y2="316.1" stroke="#666" stroke-width="0.7"/>
<line x1="47.2" y1="311.2" x2="48.6" y2="311.2" stroke="#666" stroke-width="0.7"/>
<line x1="47.2" y1="307.4" x2="48.6" y2="307.4" stroke="#666" stroke-width="0.7"/>
<line x1="47.2" y1="304.3" x2="48.6" y2="304.3" stroke="#666" stroke-width="0.7"/>
<line x1="47.2" y1="301.7" x2="48.6" y2="301.7" stroke="#666" stroke-width="0.7"/>
<line x1="47.2" y1="299.4" x2="48.6" y2="299.4" stroke="#666" stroke-width="0.7"/>
<line x1="47.2" y1="297.4" x2="48.6" y2="297.4" stroke="#666" stroke-width="0.7"/>
<line x1="46.2" y1="373.8" x2="48.6" y2="373.8" stroke="#666" stroke-width="0.9"/>
<text y="377.8" font-family="'DejaVu Sans', 'Liberation Sans', sans-serif" fill="#3a3a3a" stroke="#3a3a3a" stroke-width="0.25"><tspan x="27.0" font-size="7.5" textLength="7.8" lengthAdjust="spacingAndGlyphs">10</tspan><tspan font-size="5.2" dy="-3.1" textLength="6.2" lengthAdjust="spacingAndGlyphs">&#8722;3</tspan></text>
<line x1="47.2" y1="362.0" x2="48.6" y2="362.0" stroke="#666" stroke-width="0.7"/>
<line x1="47.2" y1="355.1" x2="48.6" y2="355.1" stroke="#666" stroke-width="0.7"/>
<line x1="47.2" y1="350.2" x2="48.6" y2="350.2" stroke="#666" stroke-width="0.7"/>
<line x1="47.2" y1="346.5" x2="48.6" y2="346.5" stroke="#666" stroke-width="0.7"/>
<line x1="47.2" y1="343.4" x2="48.6" y2="343.4" stroke="#666" stroke-width="0.7"/>
<line x1="47.2" y1="340.7" x2="48.6" y2="340.7" stroke="#666" stroke-width="0.7"/>
<line x1="47.2" y1="338.5" x2="48.6" y2="338.5" stroke="#666" stroke-width="0.7"/>
<line x1="47.2" y1="336.5" x2="48.6" y2="336.5" stroke="#666" stroke-width="0.7"/>
<text x="90.3" y="254.9" font-family="Carlito, 'Liberation Sans', sans-serif" font-size="11.50" font-weight="normal" fill="#44702a" stroke="#44702a" stroke-width="0.12" textLength="43.0" lengthAdjust="spacingAndGlyphs">1st order</text>
<text x="83.3" y="289.7" font-family="Carlito, 'Liberation Sans', sans-serif" font-size="11.50" font-weight="normal" fill="#c010c4" stroke="#c010c4" stroke-width="0.30" textLength="48.0" lengthAdjust="spacingAndGlyphs">2nd order</text>
<text x="78.2" y="327.6" font-family="Carlito, 'Liberation Sans', sans-serif" font-size="11.50" font-weight="normal" fill="#1cbcc4" stroke="#1cbcc4" stroke-width="0.30" textLength="45.2" lengthAdjust="spacingAndGlyphs">3rd order</text>
<text x="262.9" y="238.8" font-family="Carlito, 'Liberation Sans', sans-serif" font-size="12.00" font-weight="bold" fill="#111" stroke="#111" stroke-width="0.30" textLength="13.7" lengthAdjust="spacingAndGlyphs">(c)</text>
<clipPath id="clipd"><rect x="311.4" y="226.1" width="231.6" height="150.4"/></clipPath>
<g clip-path="url(#clipd)">
<polyline points="321.1,255.6 322.5,249.0 324.4,244.7 325.9,241.0 326.6,235.2 328.1,226.4 329.3,230.8 330.7,233.0 332.5,229.3 335.4,228.6 339.0,226.4 341.2,229.3 342.7,238.1 344.9,226.4 347.1,230.0 350.0,232.5 354.4,233.0 358.8,232.5 361.0,230.8 363.2,234.4 366.8,231.5 370.5,233.0 374.9,233.0 379.3,235.2 383.6,236.6 386.6,238.8 388.8,241.7 391.3,237.8 394.6,240.2 398.0,241.1 402.1,242.7 404.6,241.9 408.7,244.4 411.2,245.2 414.5,242.7 417.0,246.0 421.2,246.9 423.7,249.4 426.1,246.0 428.6,247.7 431.9,247.7 434.4,251.9 436.1,254.3 438.6,251.9 441.1,253.5 443.6,251.9 446.0,257.7 447.7,254.3 450.2,259.3 452.7,256.8 455.2,257.7 457.7,261.8 461.0,264.3 461.8,270.9 464.3,266.8 466.8,265.9 469.3,269.5 471.0,276.0 472.8,285.0 473.6,292.0 473.8,376.5" fill="none" stroke="#23802a" stroke-width="1.40" stroke-linejoin="round"/>
<polyline points="323.5,376.5 323.5,250.0" fill="none" stroke="#3a9a3a" stroke-width="1.45" stroke-dasharray="3.6,1.8" stroke-linejoin="round"/>
<polyline points="323.5,250.0 325.0,244.0 327.0,238.0 328.5,230.0 329.3,232.5 330.7,234.7 332.5,231.0 335.4,230.3 339.0,228.1 341.2,231.0 342.7,239.8 344.9,228.1 347.1,231.7 350.0,234.2 354.4,234.7 358.8,234.2 361.0,232.5 363.2,236.1 366.8,233.2 370.5,234.7 374.9,234.7 379.3,236.9 383.6,238.3 386.6,240.5 388.8,243.4 391.3,239.5 394.6,241.9 398.0,242.8 402.1,244.4 404.6,243.6 408.7,246.1 411.2,246.9 414.5,244.4 417.0,247.7 421.2,248.6 423.7,251.1 426.1,247.7 428.6,249.4 431.9,249.4 434.4,253.6 436.1,256.0 438.6,253.6 441.1,255.2 443.6,253.6 446.0,259.4 447.7,256.0 450.2,261.0 452.7,258.5 455.2,259.4 457.7,263.5 461.0,266.0 461.8,272.6 464.3,268.5 466.8,267.6 469.3,271.2 471.0,277.7 472.5,376.5" fill="none" stroke="#3a9a3a" stroke-width="1.45" stroke-dasharray="3.6,1.8" stroke-linejoin="round"/>
<polyline points="321.1,255.3 322.5,248.7 324.4,244.4 325.9,240.7 326.6,234.9 328.1,226.1 329.3,230.5 330.7,232.7 332.5,229.0 335.4,228.3 339.0,226.1 341.2,229.0 342.7,237.8 344.9,226.1 347.1,229.7 350.0,232.2 354.4,232.7 358.8,232.2 361.0,230.5 363.2,234.1 366.8,231.2 370.5,232.7 374.9,232.7 379.3,234.9 383.6,236.3 386.6,238.5 388.8,241.4 391.3,237.5 394.6,239.9 398.0,240.8 402.1,242.4 404.6,241.6 408.7,244.1 411.2,244.9 414.5,242.4 417.0,245.7 421.2,246.6 423.7,249.1 426.1,245.7 428.6,247.4 431.9,247.4 434.4,251.6 436.1,254.0 438.6,251.6 441.1,253.2 443.6,251.6 446.0,257.4 447.7,254.0 450.2,259.0 452.7,256.5 455.2,257.4 457.7,261.5 461.0,264.0 461.8,270.6 464.3,266.5 466.8,265.6 469.3,269.2 471.0,275.7 472.8,284.7" fill="none" stroke="#1c1c1c" stroke-width="1.10" stroke-linejoin="round"/>
<polyline points="323.7,280.5 323.7,376.5" fill="none" stroke="#b844c0" stroke-width="1.45" stroke-dasharray="3.6,1.8" stroke-linejoin="round"/>
<polyline points="321.5,255.6 322.5,265.9 323.7,280.5 325.9,273.2 328.1,271.7 331.0,270.2 334.7,267.3 337.6,265.1 340.5,262.9 343.4,265.9 347.1,269.5 350.7,265.1 354.4,267.3 357.3,268.8 360.2,270.2 363.2,271.7 366.8,271.0 370.5,271.7 373.4,272.4 377.1,273.2 380.7,273.9 385.1,274.6 389.5,276.1 393.4,275.4 398.7,272.7 404.1,279.4 408.1,278.0 412.1,283.4 417.5,282.1 420.2,279.4 424.2,286.1 428.2,283.4 432.2,288.8 436.3,284.7 440.7,294.4 443.7,297.3 445.2,310.0 447.6,299.3 449.5,293.4 451.5,304.2 453.4,320.8 454.8,337.4 456.4,321.8 458.9,304.2 460.3,314.9 462.2,328.6 464.8,324.7 466.7,313.0 468.1,323.7 470.0,316.9 471.0,328.6 471.6,376.5" fill="none" stroke="#b844c0" stroke-width="1.45" stroke-dasharray="3.6,1.8" stroke-linejoin="round"/>
<polyline points="323.7,376.5 323.7,293.4 325.9,294.9 327.4,308.0 329.5,311.7 332.5,310.2 335.4,313.1 337.6,316.1 339.8,303.6 342.0,306.5 344.2,304.4 346.4,312.4 347.8,317.5 350.0,311.7 352.2,316.8 355.0,307.7 357.0,306.9 359.0,311.7 361.0,314.1 363.0,312.5 366.0,312.5 368.0,310.9 371.0,309.3 373.0,311.7 375.0,316.5 377.0,314.1 379.0,311.7 381.0,314.1 383.0,311.7 385.0,309.3 386.5,307.7 388.0,311.7 390.0,318.0 392.0,323.6 394.0,318.0 396.0,312.5 398.0,308.5 400.0,314.1 402.0,318.0 404.0,319.6 406.0,318.0 408.0,322.0 410.0,324.4 412.0,326.0 414.0,324.4 416.0,320.4 418.0,317.2 420.0,314.9 422.9,314.6 426.8,323.4 429.7,325.3 432.7,331.2 433.6,340.9 435.6,318.5 437.5,329.2 438.9,376.5" fill="none" stroke="#30bcc0" stroke-width="1.45" stroke-dasharray="3.6,1.8" stroke-linejoin="round"/>
<polyline points="443.4,376.5 445.0,329.2 446.3,376.5" fill="none" stroke="#30bcc0" stroke-width="1.45" stroke-dasharray="3.6,1.8" stroke-linejoin="round"/>
<polyline points="452.2,376.5 454.7,324.4 456.1,325.3 457.0,376.5" fill="none" stroke="#30bcc0" stroke-width="1.45" stroke-dasharray="3.6,1.8" stroke-linejoin="round"/>
<polyline points="468.7,376.5 468.7,328.3" fill="none" stroke="#30bcc0" stroke-width="1.20" stroke-linejoin="round"/>
</g>
<rect x="311.4" y="226.1" width="231.6" height="150.4" fill="none" stroke="#787878" stroke-width="1.4"/>
<line x1="322.0" y1="376.5" x2="322.0" y2="378.9" stroke="#666" stroke-width="0.9"/>
<text x="321.8" y="387.1" font-family="'DejaVu Sans', 'Liberation Sans', sans-serif" font-size="7.4" fill="#3a3a3a" stroke="#3a3a3a" stroke-width="0.25" text-anchor="middle" textLength="4.1" lengthAdjust="spacingAndGlyphs">0</text>
<line x1="351.2" y1="376.5" x2="351.2" y2="378.9" stroke="#666" stroke-width="0.9"/>
<text x="351.1" y="387.1" font-family="'DejaVu Sans', 'Liberation Sans', sans-serif" font-size="7.4" fill="#3a3a3a" stroke="#3a3a3a" stroke-width="0.25" text-anchor="middle" textLength="8.0" lengthAdjust="spacingAndGlyphs">25</text>
<line x1="380.5" y1="376.5" x2="380.5" y2="378.9" stroke="#666" stroke-width="0.9"/>
<text x="380.3" y="387.1" font-family="'DejaVu Sans', 'Liberation Sans', sans-serif" font-size="7.4" fill="#3a3a3a" stroke="#3a3a3a" stroke-width="0.25" text-anchor="middle" textLength="8.0" lengthAdjust="spacingAndGlyphs">50</text>
<line x1="409.8" y1="376.5" x2="409.8" y2="378.9" stroke="#666" stroke-width="0.9"/>
<text x="409.6" y="387.1" font-family="'DejaVu Sans', 'Liberation Sans', sans-serif" font-size="7.4" fill="#3a3a3a" stroke="#3a3a3a" stroke-width="0.25" text-anchor="middle" textLength="8.0" lengthAdjust="spacingAndGlyphs">75</text>
<line x1="439.0" y1="376.5" x2="439.0" y2="378.9" stroke="#666" stroke-width="0.9"/>
<text x="438.8" y="387.1" font-family="'DejaVu Sans', 'Liberation Sans', sans-serif" font-size="7.4" fill="#3a3a3a" stroke="#3a3a3a" stroke-width="0.25" text-anchor="middle" textLength="12.0" lengthAdjust="spacingAndGlyphs">100</text>
<line x1="468.2" y1="376.5" x2="468.2" y2="378.9" stroke="#666" stroke-width="0.9"/>
<text x="468.1" y="387.1" font-family="'DejaVu Sans', 'Liberation Sans', sans-serif" font-size="7.4" fill="#3a3a3a" stroke="#3a3a3a" stroke-width="0.25" text-anchor="middle" textLength="12.0" lengthAdjust="spacingAndGlyphs">125</text>
<line x1="497.5" y1="376.5" x2="497.5" y2="378.9" stroke="#666" stroke-width="0.9"/>
<text x="497.3" y="387.1" font-family="'DejaVu Sans', 'Liberation Sans', sans-serif" font-size="7.4" fill="#3a3a3a" stroke="#3a3a3a" stroke-width="0.25" text-anchor="middle" textLength="12.0" lengthAdjust="spacingAndGlyphs">150</text>
<line x1="526.8" y1="376.5" x2="526.8" y2="378.9" stroke="#666" stroke-width="0.9"/>
<text x="526.5" y="387.1" font-family="'DejaVu Sans', 'Liberation Sans', sans-serif" font-size="7.4" fill="#3a3a3a" stroke="#3a3a3a" stroke-width="0.25" text-anchor="middle" textLength="12.0" lengthAdjust="spacingAndGlyphs">175</text>
<line x1="309.0" y1="252.7" x2="311.4" y2="252.7" stroke="#666" stroke-width="0.9"/>
<text y="256.7" font-family="'DejaVu Sans', 'Liberation Sans', sans-serif" fill="#3a3a3a" stroke="#3a3a3a" stroke-width="0.25"><tspan x="294.2" font-size="7.5" textLength="7.8" lengthAdjust="spacingAndGlyphs">10</tspan><tspan font-size="5.2" dy="-3.1" textLength="2.8" lengthAdjust="spacingAndGlyphs">0</tspan></text>
<line x1="310.0" y1="240.5" x2="311.4" y2="240.5" stroke="#666" stroke-width="0.7"/>
<line x1="310.0" y1="233.4" x2="311.4" y2="233.4" stroke="#666" stroke-width="0.7"/>
<line x1="310.0" y1="228.3" x2="311.4" y2="228.3" stroke="#666" stroke-width="0.7"/>
<line x1="309.0" y1="293.2" x2="311.4" y2="293.2" stroke="#666" stroke-width="0.9"/>
<text y="297.2" font-family="'DejaVu Sans', 'Liberation Sans', sans-serif" fill="#3a3a3a" stroke="#3a3a3a" stroke-width="0.25"><tspan x="289.8" font-size="7.5" textLength="7.8" lengthAdjust="spacingAndGlyphs">10</tspan><tspan font-size="5.2" dy="-3.1" textLength="6.2" lengthAdjust="spacingAndGlyphs">&#8722;1</tspan></text>
<line x1="310.0" y1="281.0" x2="311.4" y2="281.0" stroke="#666" stroke-width="0.7"/>
<line x1="310.0" y1="273.9" x2="311.4" y2="273.9" stroke="#666" stroke-width="0.7"/>
<line x1="310.0" y1="268.8" x2="311.4" y2="268.8" stroke="#666" stroke-width="0.7"/>
<line x1="310.0" y1="264.9" x2="311.4" y2="264.9" stroke="#666" stroke-width="0.7"/>
<line x1="310.0" y1="261.7" x2="311.4" y2="261.7" stroke="#666" stroke-width="0.7"/>
<line x1="310.0" y1="259.0" x2="311.4" y2="259.0" stroke="#666" stroke-width="0.7"/>
<line x1="310.0" y1="256.6" x2="311.4" y2="256.6" stroke="#666" stroke-width="0.7"/>
<line x1="310.0" y1="254.6" x2="311.4" y2="254.6" stroke="#666" stroke-width="0.7"/>
<line x1="309.0" y1="333.7" x2="311.4" y2="333.7" stroke="#666" stroke-width="0.9"/>
<text y="337.7" font-family="'DejaVu Sans', 'Liberation Sans', sans-serif" fill="#3a3a3a" stroke="#3a3a3a" stroke-width="0.25"><tspan x="289.8" font-size="7.5" textLength="7.8" lengthAdjust="spacingAndGlyphs">10</tspan><tspan font-size="5.2" dy="-3.1" textLength="6.2" lengthAdjust="spacingAndGlyphs">&#8722;2</tspan></text>
<line x1="310.0" y1="321.5" x2="311.4" y2="321.5" stroke="#666" stroke-width="0.7"/>
<line x1="310.0" y1="314.4" x2="311.4" y2="314.4" stroke="#666" stroke-width="0.7"/>
<line x1="310.0" y1="309.3" x2="311.4" y2="309.3" stroke="#666" stroke-width="0.7"/>
<line x1="310.0" y1="305.4" x2="311.4" y2="305.4" stroke="#666" stroke-width="0.7"/>
<line x1="310.0" y1="302.2" x2="311.4" y2="302.2" stroke="#666" stroke-width="0.7"/>
<line x1="310.0" y1="299.5" x2="311.4" y2="299.5" stroke="#666" stroke-width="0.7"/>
<line x1="310.0" y1="297.1" x2="311.4" y2="297.1" stroke="#666" stroke-width="0.7"/>
<line x1="310.0" y1="295.1" x2="311.4" y2="295.1" stroke="#666" stroke-width="0.7"/>
<line x1="309.0" y1="374.2" x2="311.4" y2="374.2" stroke="#666" stroke-width="0.9"/>
<text y="378.2" font-family="'DejaVu Sans', 'Liberation Sans', sans-serif" fill="#3a3a3a" stroke="#3a3a3a" stroke-width="0.25"><tspan x="289.8" font-size="7.5" textLength="7.8" lengthAdjust="spacingAndGlyphs">10</tspan><tspan font-size="5.2" dy="-3.1" textLength="6.2" lengthAdjust="spacingAndGlyphs">&#8722;3</tspan></text>
<line x1="310.0" y1="362.0" x2="311.4" y2="362.0" stroke="#666" stroke-width="0.7"/>
<line x1="310.0" y1="354.9" x2="311.4" y2="354.9" stroke="#666" stroke-width="0.7"/>
<line x1="310.0" y1="349.8" x2="311.4" y2="349.8" stroke="#666" stroke-width="0.7"/>
<line x1="310.0" y1="345.9" x2="311.4" y2="345.9" stroke="#666" stroke-width="0.7"/>
<line x1="310.0" y1="342.7" x2="311.4" y2="342.7" stroke="#666" stroke-width="0.7"/>
<line x1="310.0" y1="340.0" x2="311.4" y2="340.0" stroke="#666" stroke-width="0.7"/>
<line x1="310.0" y1="337.6" x2="311.4" y2="337.6" stroke="#666" stroke-width="0.7"/>
<line x1="310.0" y1="335.6" x2="311.4" y2="335.6" stroke="#666" stroke-width="0.7"/>
<text x="339.5" y="254.2" font-family="Carlito, 'Liberation Sans', sans-serif" font-size="11.50" font-weight="normal" fill="#44702a" stroke="#44702a" stroke-width="0.12" textLength="43.0" lengthAdjust="spacingAndGlyphs">1st order</text>
<text x="355.6" y="294.6" font-family="Carlito, 'Liberation Sans', sans-serif" font-size="11.50" font-weight="normal" fill="#c010c4" stroke="#c010c4" stroke-width="0.30" textLength="48.0" lengthAdjust="spacingAndGlyphs">2nd order</text>
<text x="366.8" y="334.2" font-family="Carlito, 'Liberation Sans', sans-serif" font-size="11.50" font-weight="normal" fill="#1cbcc4" stroke="#1cbcc4" stroke-width="0.30" textLength="45.8" lengthAdjust="spacingAndGlyphs">3rd order</text>
<text x="525.9" y="238.8" font-family="Carlito, 'Liberation Sans', sans-serif" font-size="12.00" font-weight="bold" fill="#111" stroke="#111" stroke-width="0.30" textLength="14.9" lengthAdjust="spacingAndGlyphs">(d)</text>
<text x="117.3" y="187.6" font-family="Carlito, 'Liberation Sans', sans-serif" font-size="12.00" font-weight="normal" fill="#1e1e1e" stroke="#1e1e1e" stroke-width="0.25" textLength="72.0" lengthAdjust="spacingAndGlyphs">Phase angle [°]</text>
<text x="379.7" y="187.6" font-family="Carlito, 'Liberation Sans', sans-serif" font-size="12.00" font-weight="normal" fill="#1e1e1e" stroke="#1e1e1e" stroke-width="0.25" textLength="71.1" lengthAdjust="spacingAndGlyphs">Phase angle [°]</text>
<text x="117.4" y="402.2" font-family="Carlito, 'Liberation Sans', sans-serif" font-size="12.00" font-weight="normal" fill="#1e1e1e" stroke="#1e1e1e" stroke-width="0.25" textLength="71.9" lengthAdjust="spacingAndGlyphs">Phase angle [°]</text>
<text x="379.7" y="402.2" font-family="Carlito, 'Liberation Sans', sans-serif" font-size="12.00" font-weight="normal" fill="#1e1e1e" stroke="#1e1e1e" stroke-width="0.25" textLength="71.1" lengthAdjust="spacingAndGlyphs">Phase angle [°]</text>
<text transform="translate(15.0,90.0) rotate(-90)" font-family="Carlito, 'Liberation Sans', sans-serif" font-size="12" fill="#1e1e1e" stroke="#1e1e1e" stroke-width="0.45" textLength="19.7" lengthAdjust="spacingAndGlyphs">BSC</text>
<text transform="translate(15.0,305.0) rotate(-90)" font-family="Carlito, 'Liberation Sans', sans-serif" font-size="12" fill="#1e1e1e" stroke="#1e1e1e" stroke-width="0.45" textLength="19.7" lengthAdjust="spacingAndGlyphs">BSC</text>
</svg>
</body></html>
